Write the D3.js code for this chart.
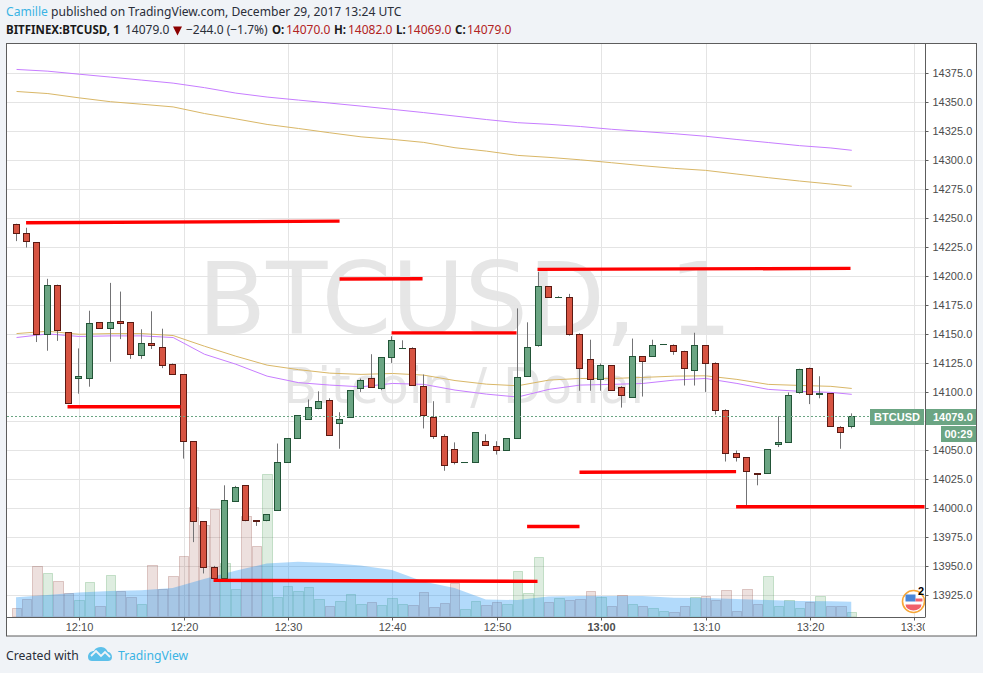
<!DOCTYPE html>
<html><head><meta charset="utf-8">
<script src="https://cdn.jsdelivr.net/npm/d3@7"></script>
<style>
html,body{margin:0;padding:0;background:#f0f3f7;overflow:hidden}
svg{display:block}
text{font-family:"Liberation Sans",Arial,sans-serif}
.ui{font-family:"Noto Sans",sans-serif}
.wm{font-family:"DejaVu Sans",sans-serif}
</style></head><body>
<svg id="c" width="983" height="673"></svg>
<script>
const openP=[14244.5,14237.5,14229,14150,14192,14151.5,14112,14112,14160.5,14155,14161,14160.5,14132,14142,14139,14124,14115.5,14058,13989,13949.5,13940,14006.5,14019.5,13990,13989,13998.5,14040,14060.5,14077,14086.5,14093,14073.5,14078.5,14103.5,14112,14103.5,14130,14138,14138,14105.5,14078.5,14062.5,14051,14040,14040,14058,14053.5,14050,14060.5,14114,14140.5,14191.5,14182,14182,14150,14128.5,14111,14123.5,14104.5,14096,14131,14131,14141.5,14140.5,14135.5,14119,14140.5,14125,14084.5,14047.5,14044,14030.5,14030,14055.5,14057,14100,14120.5,14098.5,14099.5,14070,14070];
const highP=[14245.5,14242,14229,14198,14193,14151.5,14138,14170.5,14160.5,14194.5,14187,14160.5,14154.5,14170,14155,14125,14115.5,14058,13989,13950.5,14020,14019.5,14020,13990,13994.5,14056,14060.5,14080.5,14094,14101,14095,14083,14102,14112,14133,14130,14148.5,14145,14139,14115.5,14092.5,14064,14057,14040,14065.5,14064,14058,14060.5,14172.5,14160.5,14204,14191.5,14183,14185,14151,14145.5,14125,14123.5,14105.5,14146.5,14131,14145.5,14141.5,14141.5,14136,14151.5,14140.5,14126,14085.5,14050,14044,14030.5,14051,14079.5,14100,14120.5,14121.5,14114,14099.5,14071,14082];
const lowP=[14230.5,14225,14143.5,14136,14144.5,14090,14099,14105,14155,14126.5,14146,14129,14129,14137.5,14121,14115.5,14043,13971,13944,13940,13940,14006.5,13989,13985,13989,13998.5,14040,14060.5,14077,14085.5,14063,14051.5,14078.5,14100.5,14104.5,14102,14125.5,14138,14106,14069,14060,14032.5,14038,14040,14040,14054.5,14046.5,14050,14060.5,14114,14139.5,14182,14182,14149,14101.5,14101.5,14101.5,14102,14087,14096,14096.5,14131,14141.5,14132.5,14106,14106,14100.5,14081,14040.5,14040.5,14003,14020,14030,14053,14057,14099,14090,14095,14071,14051.5,14069];
const closeP=[14237,14231,14150,14192,14153.5,14090,14114,14159.5,14155,14160.5,14159.5,14133,14142,14140.5,14123.5,14115.5,14057.5,13989,13949.5,13940,14007,14018.5,13989,13989,13994.5,14040,14060.5,14080.5,14087,14092.5,14063,14077,14102,14110.5,14104.5,14130,14145,14138,14106,14080.5,14062.5,14037.5,14040,14040,14065.5,14054.5,14050,14060.5,14113,14139,14191.5,14182,14182,14150,14120.5,14111,14123.5,14102,14097.5,14131,14127,14140.5,14141.5,14135.5,14120.5,14140.5,14125,14084.5,14047.5,14044,14032,14029.5,14051,14057,14097.5,14120,14098.5,14099,14071,14065.5,14079];
const volume=[9,17.7,50.7,43.7,35.7,23.7,17,34.7,10.7,41.7,25.7,19.7,12.7,51.7,27.7,40.7,61,109.7,91.7,107.7,53.7,27.7,101,71,143,19.7,30.7,25.7,29.7,17.7,10.7,15.7,22.7,12.7,14.7,11.7,18.7,12.7,11.7,24.7,9.7,13.7,33.7,7.7,15.7,11.7,14.7,12.7,45.7,23.7,59.7,14.7,18.7,16.7,17.7,25.7,19.7,10.7,21.7,12.7,10.7,8.7,5.7,4.7,10.7,19.7,21,16.7,27,5.7,27.7,12.7,40.7,10.7,16.7,8.7,14.7,20.7,10.7,10.7,4.7];
// minutes after 12:04 at which the moving averages were read
const maMinutes=[0,3,6,9,12,15,18,21,24,27,30,33,36,39,42,45,48,51,54,57,60,63,66,69,72,75,78,80];
const maLongPurple=[14378.5,14377,14374.4,14371.9,14369.3,14366.7,14362.8,14358.1,14354.7,14352.1,14349.5,14346.9,14344.1,14341.3,14338.3,14335.3,14332.6,14331.2,14329.3,14326.9,14325,14323.1,14320.9,14318.1,14315.5,14312.8,14310.8,14308.8];
const maLongTan=[14359.5,14357.7,14354,14350.7,14348.5,14346.2,14340.5,14335.9,14331.1,14327.6,14323.9,14320.4,14318.2,14315.6,14311,14308.1,14304.4,14302.7,14300.6,14298.1,14295.5,14293.2,14291.5,14288.3,14285.2,14282.3,14279.7,14277.8];
const maShortPurple=[14147.4,14150.5,14148.3,14148.8,14148.8,14147.4,14133,14124.4,14114.1,14108.5,14106.4,14104.9,14107.8,14107,14102.1,14098.6,14096.1,14102.7,14106.4,14107,14107.8,14110.7,14112.1,14107.8,14102.7,14101,14100.1,14098.4];
const maShortTan=[14150.8,14152.8,14150.2,14150.8,14150.8,14149.1,14139.9,14131.3,14123.6,14119.7,14116.7,14115.6,14116.4,14115,14110.3,14107.2,14105.8,14110.7,14112.1,14112.1,14113,14114.1,14114.4,14111.3,14107,14106.1,14105.3,14103.5];
const volumeMA=[19.7,22,24.5,26,26.7,29,38,46.3,53.5,55.3,54,51.5,47,35.5,29,17.5,17,20.5,21,21,21,19.3,19,18,17,16,15.7,15.3];
// hand-drawn lines: start minute, start price, end minute, end price
const trendStartMin=[0.96,30.99,35.97,49.95,4.93,18.92,48.95,53.97,68.97];
const trendStartPrice=[14246.3,14197.8,14151.4,14206.1,14087.7,13938,13984.5,14031.3,14001.5];
const trendEndMin=[30.99,38.94,47.94,79.93,15.76,49.95,53.97,68.97,87.02];
const trendEndPrice=[14247.7,14198.1,14151.4,14207,14087.7,13937.2,13984.5,14031.8,14001.5];
const priceTicks=[13925,13950,13975,14000,14025,14050,14075,14100,14125,14150,14175,14200,14225,14250,14275,14300,14325,14350,14375];
const timeTickLabels=["12:10","12:20","12:30","12:40","12:50","13:00","13:10","13:20","13:30"];
const lastPrice=14079;

const t0=Date.UTC(2017,11,29,12,4);
const toDate=m=>new Date(t0+m*60000);
const parseT=s=>{const[a,b]=s.split(":").map(Number);return new Date(Date.UTC(2017,11,29,a,b));};
const timeTicks=timeTickLabels.map(parseT);

const x=d3.scaleUtc().domain([toDate(0),toDate(86)]).range([16.05,913.89]);
const y=d3.scaleLinear().domain([14000,14375]).range([508.5,73.5]);
const v=d3.scaleLinear().domain([0,150]).range([617,467]);
const px=m=>Math.floor(x(toDate(m)));
const crisp=p=>Math.floor(p)+.5;
const L=7,R=925,T=44,B=617;

const svg=d3.select("#c");
svg.append("rect").attr("x",6.5).attr("y",43.5).attr("width",970).attr("height",592.5).attr("fill","#fff").attr("stroke","#5d5d5d");
const defs=svg.append("defs");
defs.append("clipPath").attr("id","plot").append("rect").attr("x",L).attr("y",T).attr("width",R-L).attr("height",B-T);
defs.append("clipPath").attr("id","tclip").append("rect").attr("x",L).attr("y",B).attr("width",R-L).attr("height",19);
const plot=svg.append("g").attr("clip-path","url(#plot)");

// watermark
plot.append("text").attr("class","wm").attr("x",465).attr("y",334).attr("text-anchor","middle").attr("font-size",100).attr("fill","#e6e6e6").text("BTCUSD, 1");
plot.append("text").attr("class","wm").attr("x",467).attr("y",403).attr("text-anchor","middle").attr("font-size",50).attr("fill","#e6e6e6").text("Bitcoin / Dollar");

// grid
plot.selectAll(".gh").data(priceTicks).join("line").attr("class","gh").attr("x1",L).attr("x2",R)
  .attr("y1",d=>crisp(y(d))).attr("y2",d=>crisp(y(d))).attr("stroke","#e4e4e4");
plot.selectAll(".gv").data(timeTicks).join("line").attr("class","gv")
  .attr("x1",d=>Math.floor(x(d))+1.5).attr("x2",d=>Math.floor(x(d))+1.5).attr("y1",T).attr("y2",B).attr("stroke","#e4e4e4");

// volume
const idx=d3.range(openP.length);
const up=i=>closeP[i]>=openP[i];
plot.selectAll(".vol").data(idx).join("rect").attr("class","vol")
  .attr("x",i=>px(i)-4+.5)
  .attr("width",i=>px(i+1)-px(i)-1)
  .attr("y",i=>Math.floor(v(volume[i]))+.5)
  .attr("height",i=>B-Math.floor(v(volume[i]))-.5)
  .attr("fill",i=>up(i)?"rgba(60,150,70,.17)":"rgba(140,60,50,.16)")
  .attr("stroke",i=>up(i)?"rgba(60,150,70,.25)":"rgba(140,60,50,.25)");
// volume average
const area=d3.area().x((d,i)=>x(toDate(maMinutes[i]))).y0(B).y1(d=>v(d));
plot.append("path").datum(volumeMA).attr("d",area).attr("fill","rgba(33,150,243,.35)");

// moving averages
const line=d3.line().x((d,i)=>x(toDate(maMinutes[i]))+.5).y(d=>y(d));
[[maLongPurple,"#c77dff"],[maLongTan,"#d9b767"],[maShortTan,"#d9b767"],[maShortPurple,"#c77dff"]].forEach(([s,c])=>{
  plot.append("path").datum(s).attr("d",line).attr("fill","none").attr("stroke",c).attr("stroke-width",1);
});

// candles
const g=plot.selectAll(".c").data(idx).join("g").attr("class","c");
g.append("line").attr("x1",i=>px(i)+.5).attr("x2",i=>px(i)+.5)
  .attr("y1",i=>y(highP[i])).attr("y2",i=>y(lowP[i])).attr("stroke","#737375");
g.append("rect").attr("x",i=>px(i)-2.5).attr("width",6)
  .attr("y",i=>crisp(y(Math.max(openP[i],closeP[i]))))
  .attr("height",i=>Math.max(0.01,Math.round(Math.abs(y(openP[i])-y(closeP[i])))))
  .attr("fill",i=>up(i)?"#6ba583":"#d75442")
  .attr("stroke",i=>up(i)?"#225437":"#5b1a13");

// last price line
plot.append("line").attr("x1",L).attr("x2",870).attr("y1",crisp(y(lastPrice))).attr("y2",crisp(y(lastPrice)))
  .attr("stroke","#6ba583").attr("stroke-dasharray","2 2");

// trend lines
plot.selectAll(".t").data(trendStartMin).join("line").attr("class","t")
  .attr("x1",d=>x(toDate(d))).attr("x2",(d,i)=>x(toDate(trendEndMin[i])))
  .attr("y1",(d,i)=>y(trendStartPrice[i])).attr("y2",(d,i)=>y(trendEndPrice[i]))
  .attr("stroke","#ff0000").attr("stroke-width",3.4);

// event icon
const ev=plot.append("g").attr("transform","translate(913.5,601.5)");
ev.append("circle").attr("r",11).attr("fill","#fff").attr("stroke","#f7a738").attr("stroke-width",1.6);
ev.append("rect").attr("x",-8).attr("y",-7).attr("width",10).attr("height",7).attr("fill","#4a86d8");
ev.append("path").attr("d","M2 -3H9V0H2Z").attr("fill","#f0606a");
ev.append("path").attr("d","M-8 3H8A8 6 0 0 1 -8 3Z").attr("fill","#f0606a");
plot.append("text").attr("x",918).attr("y",595).attr("font-size",11).attr("font-weight","bold").attr("fill","#000").text("2");

// axes
const axY=d3.axisRight(y).tickValues(priceTicks).tickSize(3).tickPadding(4).tickFormat(d3.format(".1f"));
const gy=svg.append("g").attr("transform",`translate(${R+.5},0)`).call(axY);
gy.selectAll(".tick").attr("transform",d=>`translate(0,${crisp(y(d))})`);
gy.select(".domain").remove();
gy.selectAll("line").attr("stroke","#5d5d5d");
gy.selectAll("text").attr("font-size",11).attr("fill","#4c4c4c").attr("x",7).attr("dy","0.36em");
gy.selectAll(".tick").filter(d=>d===14075).select("text").remove();
svg.append("line").attr("x1",R+.5).attr("x2",R+.5).attr("y1",T).attr("y2",B+.5).attr("stroke","#5d5d5d");

const axX=d3.axisBottom(x).tickValues(timeTicks).tickSize(3).tickPadding(3).tickFormat(d3.utcFormat("%H:%M"));
const gxw=svg.append("g").attr("clip-path","url(#tclip)");
const gx=gxw.append("g").attr("transform",`translate(0,${B+.5})`).call(axX);
gx.selectAll(".tick").attr("transform",d=>`translate(${Math.floor(x(d))+1.5},0)`);
gx.select(".domain").remove();
gx.selectAll("line").attr("stroke","#5d5d5d");
gx.selectAll("text").attr("font-size",11).attr("fill","#4c4c4c")
  .attr("font-weight",d=>d.getUTCHours()===13&&d.getUTCMinutes()===0?"bold":null);
svg.append("line").attr("x1",L).attr("x2",R).attr("y1",B+.5).attr("y2",B+.5).attr("stroke","#5d5d5d");

// price tags
svg.append("rect").attr("x",870).attr("y",409).attr("width",54).attr("height",16).attr("fill","#6ba583");
svg.append("rect").attr("x",926).attr("y",409).attr("width",50).attr("height",16).attr("fill","#6ba583");
svg.append("rect").attr("x",941).attr("y",426).attr("width",35).attr("height",16).attr("fill","#6ba583");
svg.append("text").attr("x",897).attr("y",421).attr("text-anchor","middle").attr("font-size",11).attr("font-weight","bold").attr("fill","#fff").text("BTCUSD");
svg.append("text").attr("x",933).attr("y",421).attr("font-size",11).attr("font-weight","bold").attr("fill","#fff").text(lastPrice.toFixed(1));
svg.append("text").attr("x",958.5).attr("y",438).attr("text-anchor","middle").attr("font-size",11).attr("font-weight","bold").attr("fill","#fff").text("00:29");

// header
const h1=svg.append("text").attr("class","ui").attr("x",6).attr("y",16).attr("font-size",12.1).attr("fill","#2a2e39");
h1.append("tspan").attr("fill","#3bb3e4").text("Camille");
h1.append("tspan").text(" published on TradingView.com, December 29, 2017 13:24 UTC");
const hdr=(xp,t,c,b)=>svg.append("text").attr("class","ui").attr("x",xp).attr("y",34).attr("font-size",b?11.5:12).attr("fill",c).attr("font-weight",b?"bold":null).text(t);
hdr(6,"BITFINEX:BTCUSD, 1","#1a1a1a",true);
hdr(125,"14079.0","#2a2e39");
svg.append("path").attr("d","M173 26.5H182L177.5 35.5Z").attr("fill","#8b0000");
hdr(186,"−244.0 (−1.7%)","#2a2e39");
hdr(272,"O:","#1a1a1a",true); hdr(286,"14070.0","#b22222");
hdr(334,"H:","#1a1a1a",true); hdr(348,"14082.0","#b22222");
hdr(396,"L:","#1a1a1a",true); hdr(407,"14069.0","#b22222");
hdr(455,"C:","#1a1a1a",true); hdr(467,"14079.0","#b22222");

// footer
svg.append("text").attr("class","ui").attr("x",6).attr("y",660).attr("font-size",12.2).attr("fill","#2a2e39").text("Created with");
svg.append("path").attr("d","M88 657C88 653 91 651 94 651C95 648 98 647 101 647C105 647 107 650 108 652C110 652 112 654 112 657C112 660 110 661 108 661H92C90 661 88 660 88 657Z").attr("fill","#5dc0ea");
svg.append("path").attr("d","M91 656L96 651L101 656L105 652L110 657").attr("fill","none").attr("stroke","#f0f3f7").attr("stroke-width",1.8);
svg.append("text").attr("class","ui").attr("x",118).attr("y",660).attr("font-size",12.2).attr("fill","#3bb3e4").text("TradingView");
</script></body></html>
